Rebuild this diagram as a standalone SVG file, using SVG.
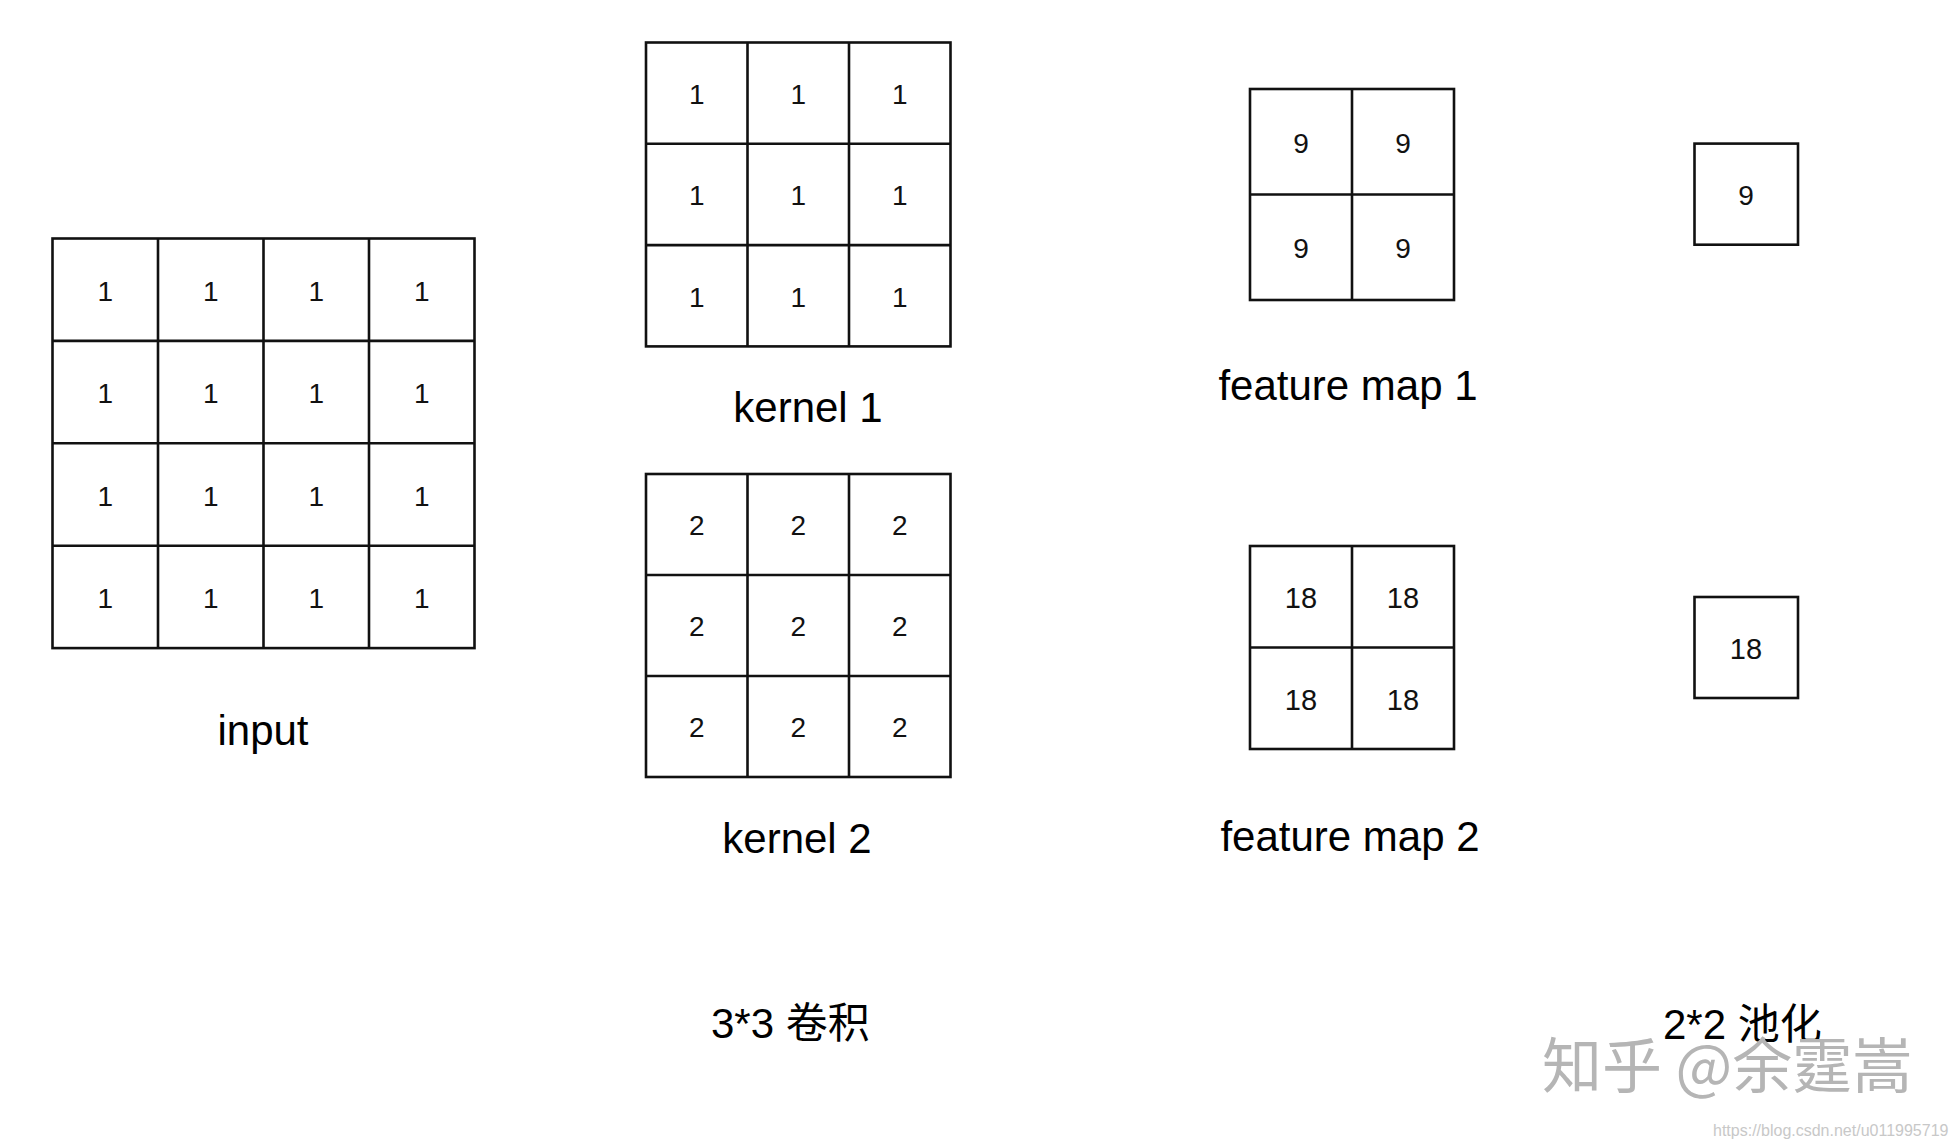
<svg xmlns="http://www.w3.org/2000/svg" width="1958" height="1148" viewBox="0 0 1958 1148">
<style>
.g{fill:none;stroke:#111;stroke-width:2.6}
.n{font-family:"Liberation Sans",Arial,sans-serif;font-size:28px;fill:#111;text-anchor:middle}
.n2{font-family:"Liberation Sans",Arial,sans-serif;font-size:29px;fill:#111;text-anchor:middle}
.lb{font-family:"Liberation Sans",Arial,sans-serif;font-size:42px;fill:#000;text-anchor:middle}
.cj{font-family:"Liberation Sans",Arial,"Noto Sans CJK SC",sans-serif;font-size:42px;fill:#000}
.wm{font-family:"Noto Sans CJK SC","Liberation Sans",sans-serif;font-size:60px;fill:#b5b5b5}
.url{font-family:"Liberation Sans",Arial,sans-serif;font-size:16px;fill:#c8c8c8}
</style>
<rect width="1958" height="1148" fill="#fff"/>

<g id="input">
<rect class="g" x="52.5" y="238.5" width="422" height="409.6"/>
<path class="g" d="M158 238.5V648.1M263.5 238.5V648.1M369 238.5V648.1M52.5 340.9H474.5M52.5 443.3H474.5M52.5 545.7H474.5"/>
<g class="n">
<text x="105.25" y="301">1</text><text x="210.75" y="301">1</text><text x="316.25" y="301">1</text><text x="421.75" y="301">1</text>
<text x="105.25" y="403.4">1</text><text x="210.75" y="403.4">1</text><text x="316.25" y="403.4">1</text><text x="421.75" y="403.4">1</text>
<text x="105.25" y="505.8">1</text><text x="210.75" y="505.8">1</text><text x="316.25" y="505.8">1</text><text x="421.75" y="505.8">1</text>
<text x="105.25" y="608.2">1</text><text x="210.75" y="608.2">1</text><text x="316.25" y="608.2">1</text><text x="421.75" y="608.2">1</text>
</g>
<text class="lb" x="263" y="745">input</text>
</g>

<g id="kernel1">
<rect class="g" x="646" y="42.5" width="304.5" height="303.9"/>
<path class="g" d="M747.5 42.5V346.4M849 42.5V346.4M646 143.8H950.5M646 245.1H950.5"/>
<g class="n">
<text x="696.75" y="104">1</text><text x="798.25" y="104">1</text><text x="899.75" y="104">1</text>
<text x="696.75" y="205.3">1</text><text x="798.25" y="205.3">1</text><text x="899.75" y="205.3">1</text>
<text x="696.75" y="306.6">1</text><text x="798.25" y="306.6">1</text><text x="899.75" y="306.6">1</text>
</g>
<text class="lb" x="808" y="422">kernel 1</text>
</g>

<g id="kernel2">
<rect class="g" x="646" y="474" width="304.5" height="303"/>
<path class="g" d="M747.5 474V777M849 474V777M646 575H950.5M646 676H950.5"/>
<g class="n">
<text x="696.75" y="535.3">2</text><text x="798.25" y="535.3">2</text><text x="899.75" y="535.3">2</text>
<text x="696.75" y="636.3">2</text><text x="798.25" y="636.3">2</text><text x="899.75" y="636.3">2</text>
<text x="696.75" y="737.3">2</text><text x="798.25" y="737.3">2</text><text x="899.75" y="737.3">2</text>
</g>
<text class="lb" x="797" y="853">kernel 2</text>
</g>

<g id="featuremap1">
<rect class="g" x="1250" y="89" width="204" height="211"/>
<path class="g" d="M1352 89V300M1250 194.5H1454"/>
<g class="n">
<text x="1301" y="152.5">9</text><text x="1403" y="152.5">9</text>
<text x="1301" y="258">9</text><text x="1403" y="258">9</text>
</g>
<text class="lb" x="1348" y="400">feature map 1</text>
</g>

<g id="featuremap2">
<rect class="g" x="1250" y="546" width="204" height="203"/>
<path class="g" d="M1352 546V749M1250 647.5H1454"/>
<g class="n2">
<text x="1301" y="608">18</text><text x="1403" y="608">18</text>
<text x="1301" y="709.5">18</text><text x="1403" y="709.5">18</text>
</g>
<text class="lb" x="1350" y="851">feature map 2</text>
</g>

<g id="pool1">
<rect class="g" x="1694.5" y="143.6" width="103.5" height="101.1"/>
<text class="n" x="1746" y="205">9</text>
</g>

<g id="pool2">
<rect class="g" x="1694.5" y="597" width="103.5" height="101"/>
<text class="n2" x="1746" y="658.5">18</text>
</g>

<g id="connectors"/>

<g id="captions">
<text class="cj" x="711" y="1038">3*3 卷积</text>
<text class="cj" x="1663" y="1039">2*2 池化</text>
</g>

<g id="watermark">
<text class="wm" x="1542" y="1088">知乎 @余霆嵩</text>
<text class="url" x="1713" y="1136">https://blog.csdn.net/u011995719</text>
</g>
</svg>
